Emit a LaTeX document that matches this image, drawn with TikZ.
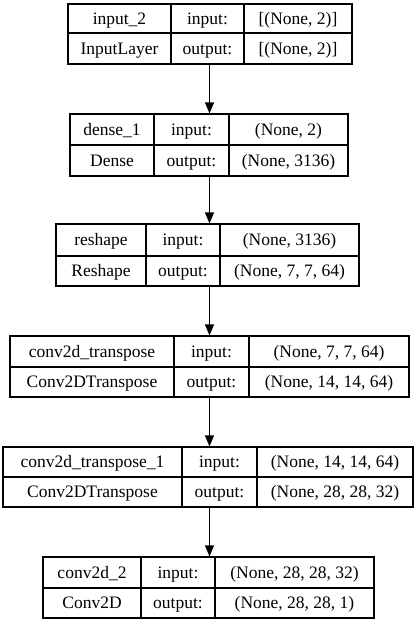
\documentclass[tikz,border=0pt]{standalone}
\usepackage{fontspec}
\setmainfont{Liberation Serif}
\newfontfamily\tnrfont{Liberation Serif}
\usetikzlibrary{arrows.meta}

\begin{document}
\begin{tikzpicture}[x=1pt,y=-1pt,
    layerbox/.style={draw,line width=1.1pt,inner sep=0pt},
    cellline/.style={line width=1.1pt},
    celltext/.style={inner sep=0pt,font=\tnrfont\fontsize{17.5}{20}\selectfont,
      text height=11.5pt,text depth=0pt},
    flow/.style={line width=1.1pt,-{Triangle[length=11pt,width=9pt]}}]
  \useasboundingbox (0,0) rectangle (418,621);
  \coordinate (axis) at (209.5,0);
  % one table per layer: name | input: | shape
  \foreach \n/\xa/\ca/\cb/\xb/\ya/\ym/\yb/\nm/\cl/\shin/\shout in {
      inlayer/68/171/244/352/4/33/64/input\_2/InputLayer/{[(None, 2)]}/{[(None, 2)]},
      dense/70/154/229/348/114/145/176/dense\_1/Dense/{(None, 2)}/{(None, 3136)},
      reshape/56/146/220/359/224/256/286/reshape/Reshape/{(None, 3136)}/{(None, 7, 7, 64)},
      deconv/10/174/249/409/336/367/397/conv2d\_transpose/Conv2DTranspose/{(None, 7, 7, 64)}/{(None, 14, 14, 64)},
      deconvb/3/182/257/413/447/477/507/conv2d\_transpose\_1/Conv2DTranspose/{(None, 14, 14, 64)}/{(None, 28, 28, 32)},
      conv/43/141/215/374/557/588/618/conv2d\_2/Conv2D/{(None, 28, 28, 32)}/{(None, 28, 28, 1)}}
  {
    \node[layerbox,minimum width=\xb-\xa,minimum height=\yb-\ya]
      (\n) at ({(\xa+\xb)/2},{(\ya+\yb)/2}) {};
    \draw[cellline] (\xa,\ym) -- (\xb,\ym);
    \draw[cellline] (\ca,\ya) -- (\ca,\yb);
    \draw[cellline] (\cb,\ya) -- (\cb,\yb);
    \node[celltext] (\n-name) at ({(\xa+\ca)/2},{(\ya+\ym)/2}) {\nm};
    \node[celltext] (\n-class) at ({(\xa+\ca)/2},{(\ym+\yb)/2}) {\cl};
    \node[celltext] (\n-in) at ({(\ca+\cb)/2},{(\ya+\ym)/2}) {input:};
    \node[celltext] (\n-out) at ({(\ca+\cb)/2},{(\ym+\yb)/2}) {output:};
    \node[celltext] (\n-inshape) at ({(\cb+\xb)/2},{(\ya+\ym)/2}) {\shin};
    \node[celltext] (\n-outshape) at ({(\cb+\xb)/2},{(\ym+\yb)/2}) {\shout};
  }
  % connectors
  \foreach \a/\b in {inlayer/dense,dense/reshape,reshape/deconv,deconv/deconvb,deconvb/conv}
    \draw[flow] (\a.south -| axis) -- (\b.north -| axis);
\end{tikzpicture}
\end{document}
